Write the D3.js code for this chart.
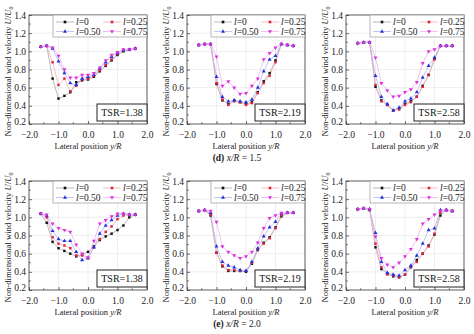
<!DOCTYPE html>
<html>
<head>
<meta charset="utf-8">
<script src="https://cdn.jsdelivr.net/npm/d3@7"></script>
<style>
  body { margin: 0; background: #fff; }
  svg { display: block; font-family: "Liberation Serif", "DejaVu Serif", serif; }
</style>
</head>
<body>
<div id="chart"></div>
<script>
/* Wake profiles, six panels */

const width = 474, height = 334;

// lateral positions y/R
const yR = [-1.6, -1.4, -1.2, -1.0, -0.8, -0.6, -0.4, -0.2, 0, 0.2, 0.4, 0.6, 0.8, 1.0, 1.2, 1.4, 1.6];

const series = ["l=0", "l=0.25", "l=0.50", "l=0.75"];
const tsrLabels = ["TSR=1.38", "TSR=2.19", "TSR=2.58"];
const captions = ["x/R = 1.5", "x/R = 2.0"];
const captionTags = ["(d)", "(e)"];
const xTicks = [-2.0, -1.0, 0.0, 1.0, 2.0];
const yTicks = [0.2, 0.4, 0.6, 0.8, 1.0, 1.2, 1.4];

// (d) x/R = 1.5
const d138 = [
  [1.05, 1.06, 0.70, 0.48, 0.51, 0.55, 0.66, 0.68, 0.69, 0.72, 0.78, 0.84, 0.90, 0.96, 1.00, 1.02, 1.03],
  [1.05, 1.06, 0.88, 0.63, 0.70, 0.56, 0.62, 0.69, 0.70, 0.73, 0.79, 0.85, 0.91, 0.97, 1.01, 1.02, 1.03],
  [1.05, 1.06, 1.03, 0.89, 0.76, 0.65, 0.63, 0.70, 0.72, 0.74, 0.81, 0.88, 0.94, 0.98, 1.01, 1.02, 1.03],
  [1.05, 1.06, 1.04, 0.95, 0.80, 0.71, 0.71, 0.74, 0.74, 0.76, 0.82, 0.90, 0.96, 0.99, 1.02, 1.02, 1.03]
];
const d219 = [
  [1.07, 1.08, 1.08, 0.64, 0.46, 0.42, 0.46, 0.44, 0.42, 0.44, 0.55, 0.67, 0.76, 0.90, 1.08, 1.07, 1.06],
  [1.07, 1.08, 1.08, 0.65, 0.47, 0.41, 0.45, 0.44, 0.41, 0.43, 0.54, 0.65, 0.73, 0.88, 1.08, 1.07, 1.06],
  [1.07, 1.08, 1.08, 0.72, 0.50, 0.45, 0.46, 0.45, 0.44, 0.47, 0.60, 0.78, 0.91, 0.95, 1.08, 1.07, 1.06],
  [1.07, 1.08, 1.08, 0.94, 0.62, 0.67, 0.60, 0.53, 0.54, 0.62, 0.70, 0.91, 0.98, 1.04, 1.08, 1.07, 1.06]
];
const d258 = [
  [1.09, 1.10, 1.10, 0.61, 0.46, 0.41, 0.35, 0.37, 0.42, 0.45, 0.50, 0.62, 0.74, 0.92, 1.06, 1.06, 1.06],
  [1.09, 1.10, 1.10, 0.63, 0.45, 0.41, 0.35, 0.36, 0.41, 0.44, 0.50, 0.61, 0.74, 0.91, 1.06, 1.06, 1.06],
  [1.09, 1.10, 1.10, 0.73, 0.50, 0.42, 0.35, 0.38, 0.45, 0.48, 0.55, 0.71, 0.84, 0.93, 1.06, 1.06, 1.06],
  [1.09, 1.10, 1.10, 0.93, 0.65, 0.57, 0.50, 0.51, 0.55, 0.58, 0.66, 0.87, 1.00, 1.02, 1.06, 1.06, 1.06]
];
// (e) x/R = 2.0
const e138 = [
  [1.04, 0.94, 0.73, 0.66, 0.63, 0.60, 0.57, 0.59, 0.62, 0.68, 0.75, 0.79, 0.82, 0.86, 0.91, 1.00, 1.03],
  [1.04, 1.00, 0.78, 0.71, 0.69, 0.66, 0.58, 0.58, 0.55, 0.67, 0.76, 0.84, 0.90, 0.98, 1.02, 1.03, 1.03],
  [1.04, 1.02, 0.85, 0.76, 0.74, 0.74, 0.62, 0.53, 0.55, 0.67, 0.82, 0.91, 0.97, 1.02, 1.04, 1.03, 1.03],
  [1.04, 1.03, 0.93, 0.88, 0.86, 0.84, 0.70, 0.60, 0.56, 0.74, 0.93, 0.97, 1.01, 1.04, 1.04, 1.03, 1.03]
];
const e219 = [
  [1.07, 1.08, 1.02, 0.61, 0.46, 0.41, 0.41, 0.41, 0.40, 0.49, 0.64, 0.72, 0.78, 0.89, 1.01, 1.05, 1.05],
  [1.07, 1.08, 1.03, 0.61, 0.47, 0.42, 0.42, 0.41, 0.41, 0.50, 0.65, 0.71, 0.77, 0.88, 1.02, 1.05, 1.05],
  [1.07, 1.08, 1.05, 0.68, 0.51, 0.47, 0.45, 0.42, 0.41, 0.51, 0.66, 0.79, 0.89, 0.95, 1.04, 1.05, 1.05],
  [1.07, 1.08, 1.07, 0.95, 0.68, 0.62, 0.58, 0.55, 0.57, 0.62, 0.72, 0.88, 0.99, 1.02, 1.05, 1.05, 1.05]
];
const e258 = [
  [1.09, 1.10, 1.08, 0.67, 0.43, 0.38, 0.35, 0.34, 0.37, 0.45, 0.53, 0.60, 0.69, 0.81, 1.02, 1.08, 1.07],
  [1.09, 1.10, 1.09, 0.71, 0.45, 0.37, 0.36, 0.34, 0.37, 0.46, 0.51, 0.60, 0.68, 0.82, 1.05, 1.08, 1.07],
  [1.09, 1.10, 1.09, 0.83, 0.51, 0.39, 0.37, 0.36, 0.42, 0.47, 0.58, 0.71, 0.86, 0.88, 1.08, 1.08, 1.07],
  [1.09, 1.10, 1.09, 0.79, 0.55, 0.48, 0.45, 0.50, 0.57, 0.65, 0.76, 0.93, 0.98, 1.03, 1.07, 1.08, 1.07]
];

const panels = [[d138, d219, d258], [e138, e219, e258]];

const colors = ["#111111", "#e0203c", "#2233dd", "#dd33dd"];
const lineColors = ["#a8a8a8", "#f2b0b6", "#b0b6f2", "#f0b0f0"];
const symbols = [d3.symbolSquare, d3.symbolSquare, d3.symbolTriangle, d3.symbolTriangle];

const panelLeft = [29, 187, 346], panelW = 118;
const panelTop = [15, 181], panelH = 109;

const svg = d3.select("#chart")
  .append("svg")
  .attr("width", width)
  .attr("height", height);

panels.forEach((row, r) => {
  row.forEach((data, c) => {
    const x0 = panelLeft[c], y0 = panelTop[r];

    let x = d3.scaleLinear().domain([-2, 2]).range([x0, x0 + panelW]);
    let y = d3.scaleLinear().domain([0.2, 1.4]).range([y0 + panelH, y0]);

    const g = svg.append("g");

    // grid
    g.append("g")
      .selectAll("line")
      .data(xTicks.slice(1, -1))
      .join("line")
      .attr("x1", d => x(d)).attr("x2", d => x(d))
      .attr("y1", y0).attr("y2", y0 + panelH)
      .attr("stroke", "#e8e8e8").attr("stroke-width", 0.7);
    g.append("g")
      .selectAll("line")
      .data(yTicks.slice(1, -1))
      .join("line")
      .attr("x1", x0).attr("x2", x0 + panelW)
      .attr("y1", d => y(d)).attr("y2", d => y(d))
      .attr("stroke", "#e8e8e8").attr("stroke-width", 0.7);

    // axes
    const xAxis = g.append("g")
      .attr("transform", `translate(0,${y0 + panelH})`)
      .call(d3.axisBottom(x).tickValues(xTicks).tickSize(-3).tickPadding(7)
        .tickFormat(d3.format(".1f")));
    const yAxis = g.append("g")
      .attr("transform", `translate(${x0},0)`)
      .call(d3.axisLeft(y).tickValues(yTicks).tickSize(-3).tickPadding(3)
        .tickFormat(d3.format(".1f")));
    // minor ticks
    g.append("g")
      .selectAll("line")
      .data([-1.5, -0.5, 0.5, 1.5])
      .join("line")
      .attr("x1", d => x(d)).attr("x2", d => x(d))
      .attr("y1", y0 + panelH).attr("y2", y0 + panelH - 1.8)
      .attr("stroke", "#333").attr("stroke-width", 0.7);
    g.append("g")
      .selectAll("line")
      .data([0.3, 0.5, 0.7, 0.9, 1.1, 1.3])
      .join("line")
      .attr("x1", x0).attr("x2", x0 + 1.8)
      .attr("y1", d => y(d)).attr("y2", d => y(d))
      .attr("stroke", "#333").attr("stroke-width", 0.7);

    [xAxis, yAxis].forEach(a => {
      a.select(".domain").remove();
      a.selectAll("line").attr("stroke", "#333").attr("stroke-width", 0.7);
      a.selectAll("text")
        .attr("font-family", "Liberation Serif, serif")
        .attr("font-size", 9.5)
        .attr("fill", "#222");
    });
    // keep the lowest y label clear of the first x label
    yAxis.selectAll("text").filter(d => d === 0.2).attr("dy", "0.1em");

    // frame
    g.append("rect")
      .attr("x", x0).attr("y", y0)
      .attr("width", panelW).attr("height", panelH)
      .attr("fill", "none").attr("stroke", "#333").attr("stroke-width", 0.8);

    // series
    let line = d3.line()
      .x((d, i) => x(yR[i]))
      .y(d => y(d));

    data.forEach((vals, s) => {
      g.append("path")
        .datum(vals)
        .attr("d", line)
        .attr("fill", "none")
        .attr("stroke", lineColors[s])
        .attr("stroke-width", 0.8);
    });
    data.forEach((vals, s) => {
      g.append("g")
        .selectAll("path")
        .data(vals)
        .join("path")
        .attr("transform", (d, i) => `translate(${x(yR[i])},${y(d)})${s === 3 ? " rotate(180)" : ""}`)
        .attr("d", d3.symbol().type(symbols[s]).size(s < 2 ? 6 : 7))
        .attr("fill", colors[s]);
    });

    // legend
    const lg = g.append("g");
    const lx = x0 + 24;
    lg.append("rect")
      .attr("x", lx).attr("y", y0)
      .attr("width", x0 + panelW - lx).attr("height", 22)
      .attr("fill", "#fff").attr("fill-opacity", 0.85)
      .attr("stroke", "#999").attr("stroke-width", 0.7);
    series.forEach((name, s) => {
      const cx = lx + 3 + (s % 2) * 47;
      const cy = y0 + 7 + Math.floor(s / 2) * 9.5;
      lg.append("line")
        .attr("x1", cx).attr("x2", cx + 18)
        .attr("y1", cy).attr("y2", cy)
        .attr("stroke", lineColors[s]).attr("stroke-width", 0.8);
      lg.append("path")
        .attr("transform", `translate(${cx + 9},${cy})${s === 3 ? " rotate(180)" : ""}`)
        .attr("d", d3.symbol().type(symbols[s]).size(7))
        .attr("fill", colors[s]);
      const t = lg.append("text")
        .attr("x", cx + 20).attr("y", cy + 3)
        .attr("font-size", 9.5).attr("fill", "#222");
      t.append("tspan").attr("font-style", "italic").text("l");
      t.append("tspan").text(name.slice(1));
    });

    // TSR box
    const bw = 50, bh = 17;
    g.append("rect")
      .attr("x", x0 + panelW - bw).attr("y", y0 + panelH - bh - 3)
      .attr("width", bw).attr("height", bh)
      .attr("fill", "#fff").attr("stroke", "#222").attr("stroke-width", 1);
    g.append("text")
      .attr("x", x0 + panelW - bw / 2).attr("y", y0 + panelH - 3 - bh / 2 + 3.5)
      .attr("text-anchor", "middle")
      .attr("font-size", 10).attr("fill", "#111")
      .text(tsrLabels[c]);

    // axis titles
    const xt = g.append("text")
      .attr("x", x0 + panelW / 2).attr("y", y0 + panelH + 25)
      .attr("text-anchor", "middle")
      .attr("font-size", 8.5).attr("fill", "#222");
    xt.append("tspan").text("Lateral position ");
    xt.append("tspan").attr("font-style", "italic").text("y/R");

    const yt = g.append("text")
      .attr("transform", `translate(${x0 - 18},${y0 + panelH / 2 + 2}) rotate(-90)`)
      .attr("text-anchor", "middle")
      .attr("font-size", 8.7).attr("fill", "#222");
    yt.append("tspan").text("Non-dimensional wind velocity ");
    yt.append("tspan").attr("font-style", "italic").text("U");
    yt.append("tspan").text("/");
    yt.append("tspan").attr("font-style", "italic").text("U");
    yt.append("tspan").attr("font-size", 6).attr("dy", 2).text("0");
  });

  // caption
  const cap = svg.append("text")
    .attr("x", width / 2).attr("y", panelTop[r] + panelH + 37)
    .attr("text-anchor", "middle")
    .attr("font-size", 9.5).attr("fill", "#222");
  cap.append("tspan").attr("font-weight", "bold").text(captionTags[r] + " ");
  cap.append("tspan").attr("font-style", "italic").text("x/R");
  cap.append("tspan").text(captions[r].slice(3));
});
</script>
</body>
</html>
